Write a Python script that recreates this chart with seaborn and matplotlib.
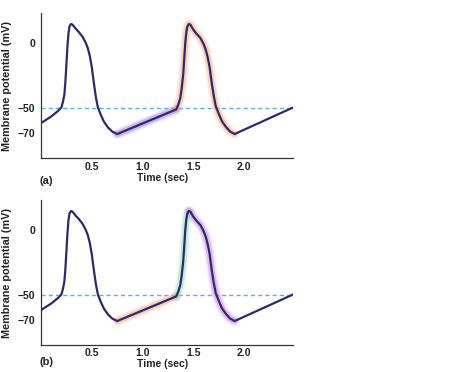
import matplotlib
matplotlib.use("Agg")
import matplotlib.pyplot as plt
import pandas as pd
import seaborn as sns

# membrane potential trace (time in s, potential in mV)
time_s = [0.00, 0.10, 0.17, 0.20, 0.215, 0.23, 0.24, 0.25, 0.26, 0.27, 0.28,
          0.295, 0.31, 0.34, 0.37, 0.41, 0.44, 0.46, 0.48, 0.50, 0.52, 0.54,
          0.56, 0.59, 0.62, 0.66, 0.70, 0.75,
          1.04, 1.33,
          1.35, 1.37, 1.385, 1.40, 1.41, 1.42, 1.43, 1.44, 1.455,
          1.47, 1.50, 1.53, 1.57, 1.60, 1.62, 1.64, 1.66, 1.68, 1.70, 1.72,
          1.75, 1.78, 1.82, 1.86, 1.905,
          2.20, 2.48]
potential_mv = [-62, -57, -52.5, -50, -46, -40, -30, -17, -3, 7, 12.5,
                14.5, 14, 11, 8.5, 4.5, 0, -4, -10, -19, -31, -42,
                -50, -56, -61, -65.5, -68.5, -70.5,
                -61, -51.5,
                -48, -43, -35, -24, -12, 0, 8, 12.5, 14.5,
                14, 10, 7, 3.5, -1, -5, -11, -19, -31, -41, -49,
                -55, -60.5, -65, -68.5, -70.5,
                -60, -50]

threshold_mv = -50
x_ticks = [0.5, 1.0, 1.5, 2.0]
x_tick_labels = ["0.5", "1.0", "1.5", "2.0"]
y_ticks = [0, -50, -70]
panel_labels = ["(a)", "(b)"]

# highlighted stretches: (t_start, t_end, colour)
highlights_a = [(0.75, 1.33, "#9a6ad8"), (1.33, 1.905, "#f3a57c")]
highlights_b = [(0.75, 1.33, "#f0a27a"), (1.33, 1.455, "#86d8b4"), (1.455, 1.905, "#c576dc")]

trace = pd.DataFrame({"t": time_s, "v": potential_mv})

sns.set_theme(style="white")
plt.rcParams["font.family"] = ["Liberation Sans", "DejaVu Sans"]
plt.rcParams["font.weight"] = "bold"

fig = plt.figure(figsize=(4.74, 3.72), dpi=100)
W, H = 474, 372
# axes boxes in pixels (left, top, right, bottom), tick pad, y of xlabel and panel tag
panels = [
    dict(box=(41, 13, 293, 158), pad=3, xlab_y=178, tag_y=181, hl=highlights_a, tag=panel_labels[0]),
    dict(box=(41, 200, 293, 345), pad=2, xlab_y=364, tag_y=362, hl=highlights_b, tag=panel_labels[1]),
]

for p in panels:
    x0, y0, x1, y1 = p["box"]
    ax = fig.add_axes([x0 / W, 1 - y1 / H, (x1 - x0) / W, (y1 - y0) / H])

    # soft glow behind the trace
    for t0, t1, col in p["hl"]:
        seg = trace[(trace.t >= t0 - 1e-9) & (trace.t <= t1 + 1e-9)]
        for lw, a in [(7, 0.2), (4.5, 0.38)]:
            sns.lineplot(data=seg, x="t", y="v", ax=ax, color=col, lw=lw,
                         alpha=a, sort=False, estimator=None,
                         solid_capstyle="round", solid_joinstyle="round")

    ax.axhline(threshold_mv, color="#5ab5cc", lw=1.0, ls=(0, (3, 2.2)), zorder=1)
    sns.lineplot(data=trace, x="t", y="v", ax=ax, color="#2d2a6c", lw=1.6,
                 sort=False, estimator=None, solid_joinstyle="round", zorder=3)

    ax.set_xlim(0, 2.48)
    ax.set_ylim(-89, 23)
    ax.set_xticks(x_ticks)
    ax.set_xticklabels(x_tick_labels)
    ax.set_yticks(y_ticks)
    ax.tick_params(axis="x", direction="in", length=3, width=0.8, pad=p["pad"],
                   labelsize=7.5, colors="#222222")
    ax.tick_params(axis="y", length=0, pad=4, labelsize=7.5, colors="#222222")
    for lbl in ax.get_xticklabels() + ax.get_yticklabels():
        lbl.set_fontweight("bold")
    ax.set_xlabel("")
    ax.set_ylabel("Membrane potential (mV)", fontsize=7.8, fontweight="bold",
                  labelpad=4, color="#222222")
    for side in ["top", "right"]:
        ax.spines[side].set_visible(False)
    for side in ["left", "bottom"]:
        ax.spines[side].set_color("#333333")
        ax.spines[side].set_linewidth(0.9)

    fig.text(163 / W, 1 - p["xlab_y"] / H, "Time (sec)", fontsize=7.5,
             fontweight="bold", color="#222222", va="center", ha="center")
    fig.text(40 / W, 1 - p["tag_y"] / H, p["tag"], fontsize=8, fontweight="bold",
             color="#222222", va="center", ha="left")

fig.savefig("out.png", dpi=100, facecolor="white")
